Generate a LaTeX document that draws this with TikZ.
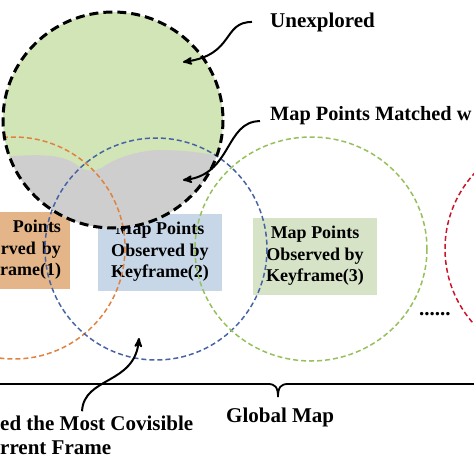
\documentclass[tikz,border=0pt]{standalone}
\usepackage{fontspec}
\setmainfont{Liberation Serif}
\usetikzlibrary{arrows}

\definecolor{unexgreen}{RGB}{210,229,183}
\definecolor{matchgray}{RGB}{206,206,206}
\definecolor{boxorange}{RGB}{228,181,136}
\definecolor{boxblue}{RGB}{199,215,232}
\definecolor{boxgreen}{RGB}{214,227,199}
\definecolor{kforange}{RGB}{224,130,62}
\definecolor{kfblue}{RGB}{70,100,165}
\definecolor{kfgreen}{RGB}{150,192,92}
\definecolor{kfred}{RGB}{200,22,42}

\begin{document}
\begin{tikzpicture}[x=1pt,y=-1pt,>=stealth',
                    keyframe/.style={line width=1.5pt,dash pattern=on 5pt off 3pt},
                    kfbox/.style={rectangle,inner sep=0pt,minimum width=124pt,
                                  minimum height=77pt,align=center,
                                  font=\fontsize{18}{21.5}\selectfont\bfseries},
                    bigtext/.style={anchor=base west,inner sep=0pt,
                                    font=\fontsize{21}{25}\selectfont\bfseries},
                    callout/.style={->,line width=2pt}]

  \useasboundingbox (0,0) rectangle (474,474);

  % map points of the keyframes
  \node[kfbox,fill=boxorange,align=right,text width=108pt,minimum width=126pt]
                                   (kf1) at (7,250)   {Points\\rved by\\rame(1)};
  \node[kfbox,fill=boxblue]        (kf2) at (160,252) {Map Points\\Observed by\\Keyframe(2)};
  \node[kfbox,fill=boxgreen]       (kf3) at (315,256) {Map Points\\Observed by\\Keyframe(3)};

  % current frame
  \fill[unexgreen] (113,120) circle[x radius=110,y radius=108];
  \begin{scope}
    \clip (113,120) circle[x radius=110,y radius=108];
    \fill[matchgray] (0,157) .. controls (30,155) and (60,152) .. (77,165)
                     .. controls (85,172) and (95,172) .. (103,167)
                     .. controls (115,158) and (140,150) .. (160,150)
                     .. controls (185,150) and (205,153) .. (230,158)
                     -- (230,240) -- (0,240) -- cycle;
  \end{scope}

  \draw[keyframe,kforange] (14,248)  circle[radius=111];
  \draw[keyframe,kfblue]   (156,249) circle[radius=111];
  \draw[keyframe,kfgreen]  (311,249) circle[x radius=116,y radius=112];
  \draw[keyframe,kfred]    (557,249) circle[radius=112];

  \draw[line width=3pt,dash pattern=on 9pt off 5pt]
        (113,120) circle[x radius=110,y radius=108];

  \node[bigtext] (more) at (419,315) {......};

  % labels
  \node[bigtext] (unexp)  at (270,27)  {Unexplored};
  \node[bigtext,font=\fontsize{20.3}{24}\selectfont\bfseries]
                 (match)  at (270,120) {Map Points Matched w};
  \node[bigtext] (covis)  at (0,430)   {ed the Most Covisible};
  \node[bigtext] (covis2) at (0,454)   {rrent Frame};
  \node[bigtext] (global) at (226,422) {Global Map};

  \coordinate (unexp-in) at (183,62);
  \coordinate (match-in) at (183,180);
  \coordinate (covis-in) at (139,338);

  \draw[callout] ([xshift=-18pt]unexp.west)
        .. controls +(-30,0) and +(52,-7) .. (unexp-in);
  \draw[callout] ([xshift=-10pt,yshift=-6pt]match.west)
        .. controls +(-35,0) and +(49,-5) .. (match-in);
  \draw[callout] ([xshift=82pt,yshift=4pt]covis.north west)
        .. controls +(2,-35) and +(-4,47) .. (covis-in);

  % global map brace
  \draw[line width=1.8pt] (0,384) -- (268,384)
        .. controls (275,384) and (278,387) .. (278,397)
        .. controls (278,387) and (281,384) .. (288,384) -- (474,384);
\end{tikzpicture}
\end{document}
